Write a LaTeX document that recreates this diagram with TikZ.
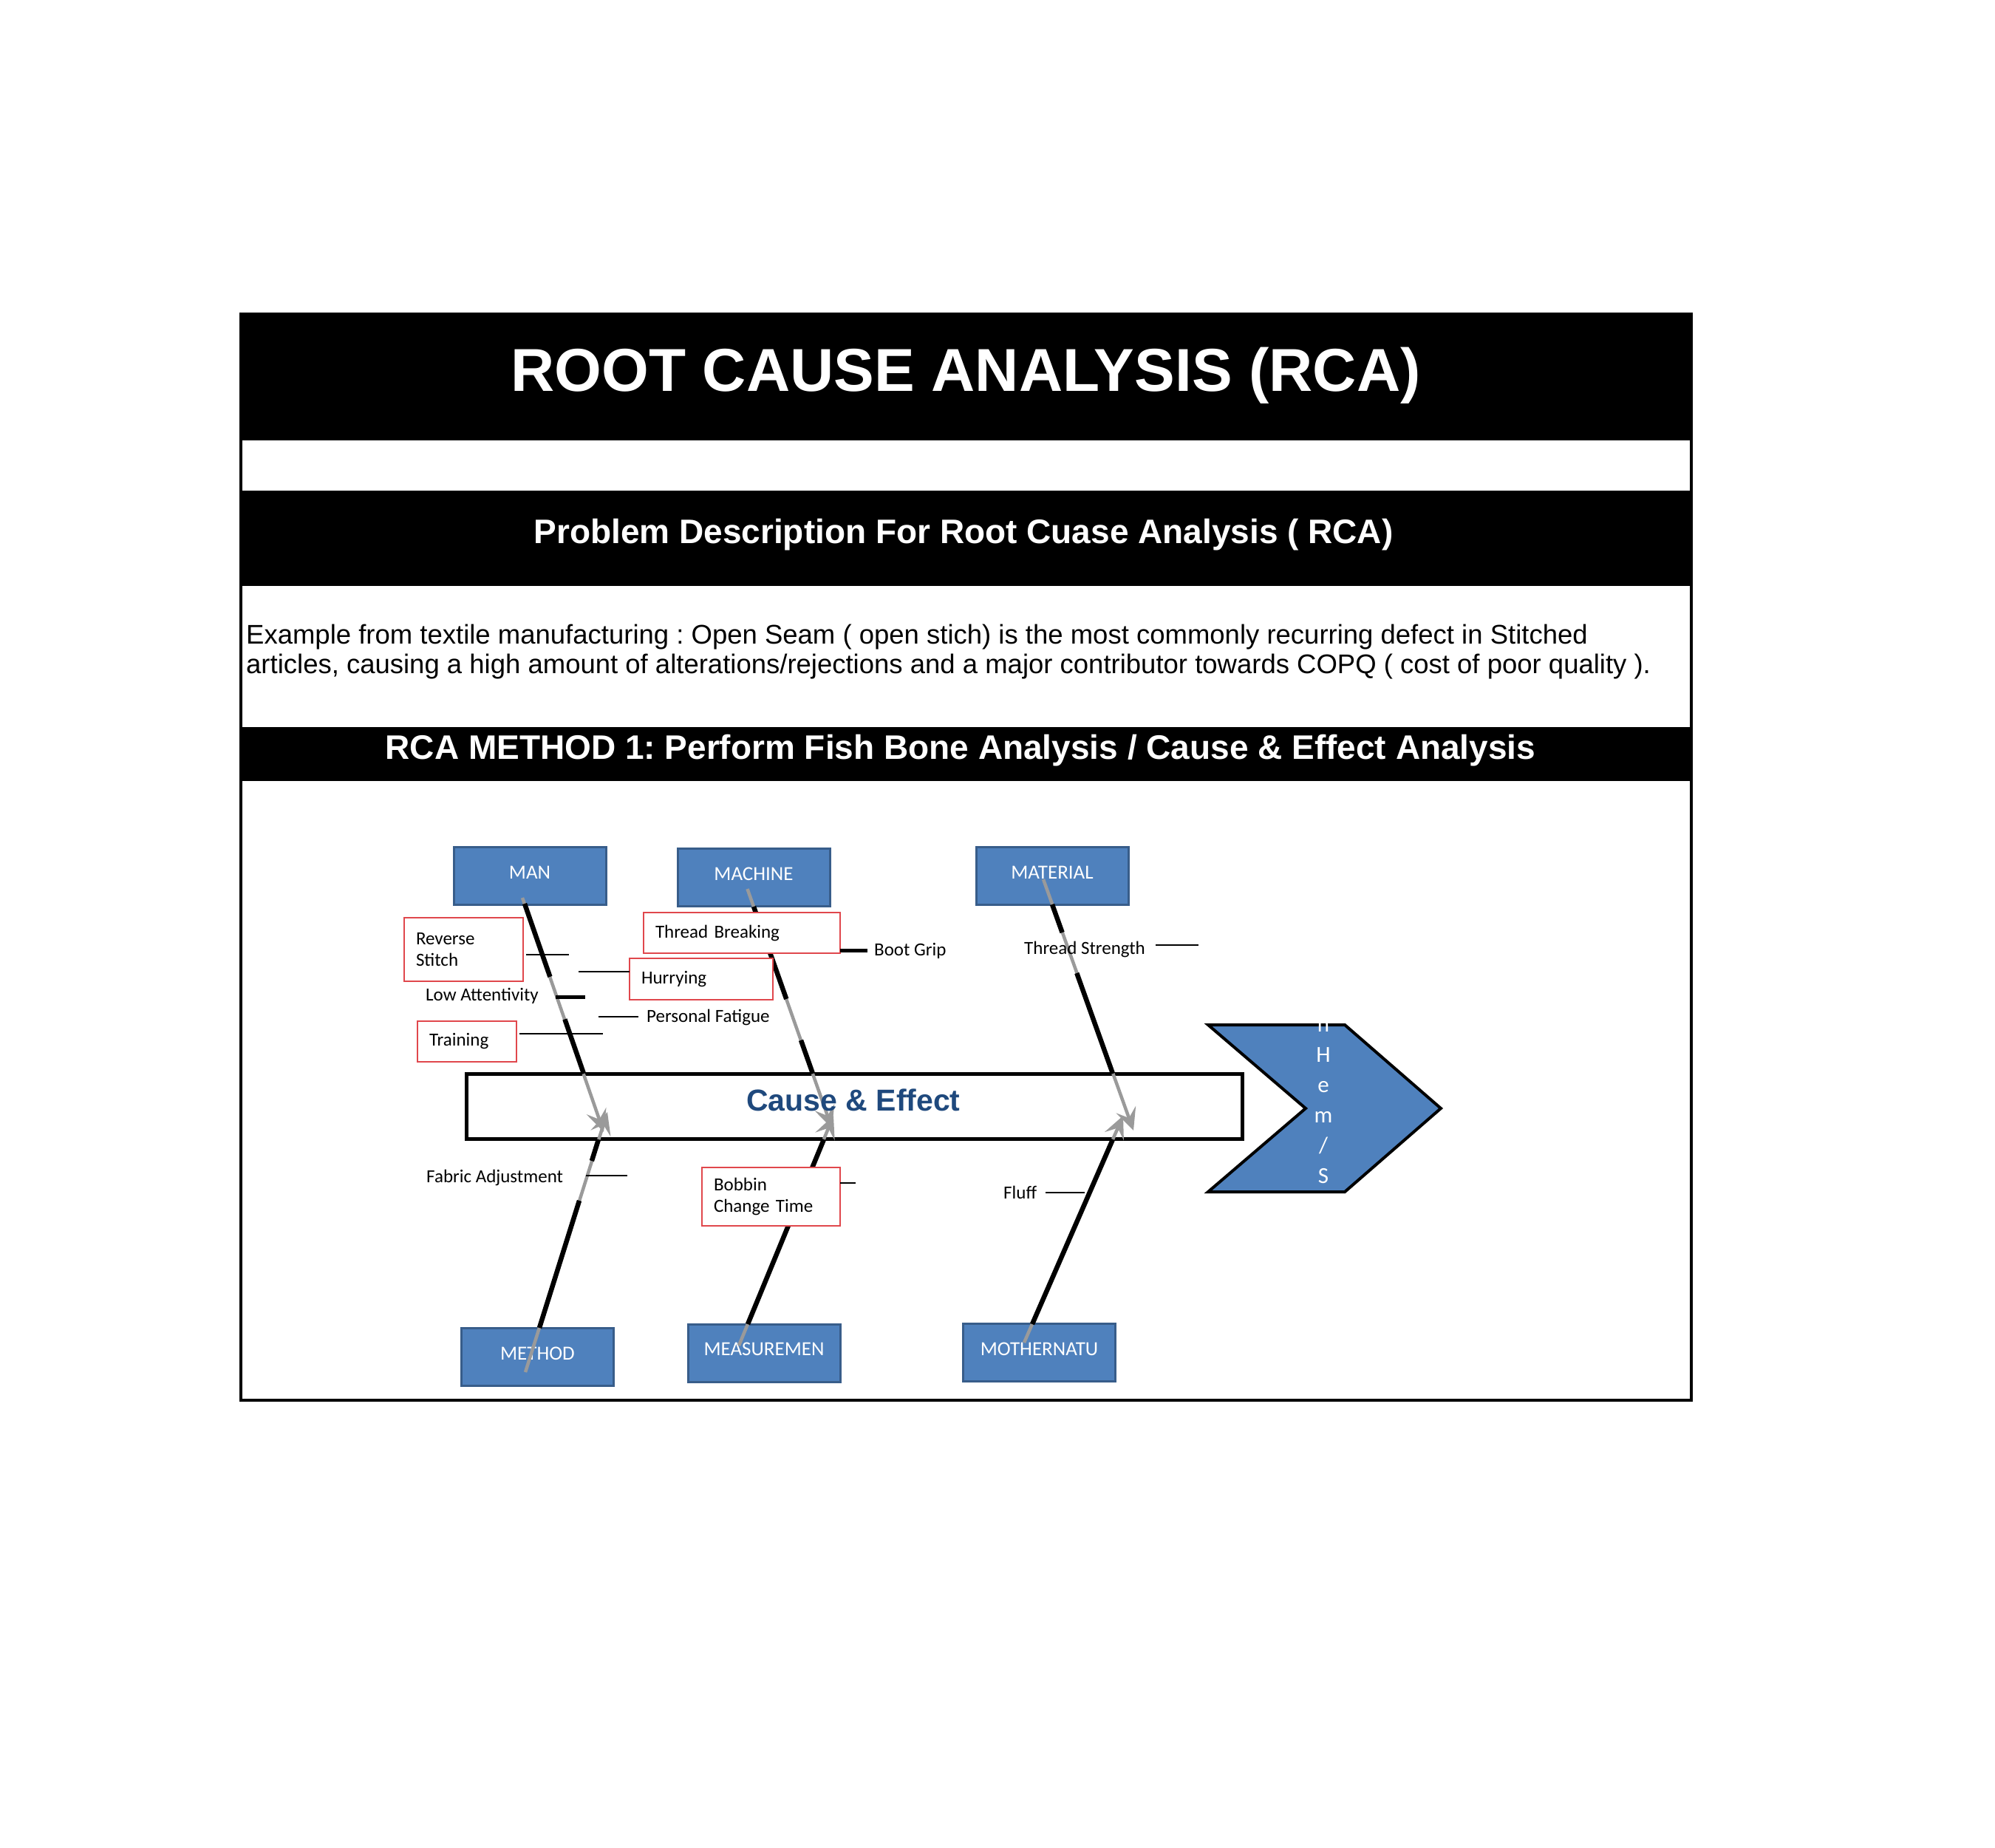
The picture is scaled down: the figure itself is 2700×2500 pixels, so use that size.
\documentclass[tikz,border=0pt]{standalone}
\usepackage{fontspec}
\setmainfont{Liberation Sans}
\newfontfamily\calfont{Carlito}
\usetikzlibrary{arrows.meta,calc}
\definecolor{catblue}{HTML}{4F81BD}
\definecolor{catedge}{HTML}{385D8A}
\definecolor{redb}{HTML}{E0474C}
\definecolor{cetext}{HTML}{1F497D}
\definecolor{arrowgray}{HTML}{9A9A9A}
\frenchspacing
\begin{document}
\begin{tikzpicture}[x=1pt,y=-1pt]
\tikzset{
  cat/.style={draw=catedge, line width=3pt, fill=catblue, text=white,
    font=\calfont\fontsize{27}{32}\selectfont, minimum width=206pt,
    minimum height=78pt, inner sep=0pt, text depth=10pt},
  redbox/.style={draw=redb, line width=2pt, fill=white,
    font=\calfont\fontsize{25}{29}\selectfont, align=left,
    inner xsep=16pt, inner ysep=0pt},
  lbl/.style={font=\calfont\fontsize{25}{29}\selectfont, inner sep=0pt, anchor=west},
  bone/.style={line width=6.5pt},
  tickline/.style={line width=2.5pt},
  heavytick/.style={line width=5pt},
  grayarrow/.style={line width=4.5pt, draw=arrowgray,
    -{Stealth[length=30pt,width=28pt,inset=12pt]}},
  headtext/.style={text=white, anchor=base,
    font=\bfseries\fontsize{46}{54}\selectfont, inner sep=0pt},
  paratext/.style={anchor=base west, font=\fontsize{36.5}{40}\selectfont, inner sep=0pt},
  chevletter/.style={text=white, anchor=base, inner sep=0pt,
    font=\calfont\fontsize{31}{34}\selectfont},
}
\useasboundingbox (0,0) rectangle (2700,2500);

% header bands
\fill[black] (326,425) rectangle (2289,596);
\fill[black] (326,664) rectangle (2289,793);
\fill[black] (326,984) rectangle (2289,1057);

\node[headtext, font=\bfseries\fontsize{82}{90}\selectfont] (title) at (1307,529)
  {ROOT CAUSE ANALYSIS (RCA)};
\node[headtext] (subtitle) at (1304,735)
  {Problem Description For Root Cuase Analysis ( RCA)};
\node[paratext] (desc1) at (333,871)
  {Example from textile manufacturing : Open Seam ( open stich) is the most commonly recurring defect in Stitched};
\node[paratext] (desc2) at (333,911)
  {articles, causing a high amount of alterations/rejections and a major contributor towards COPQ ( cost of poor quality ).};
\node[headtext] (method1) at (1300,1027)
  {RCA METHOD 1: Perform Fish Bone Analysis / Cause \& Effect Analysis};

% effect spine and head
\node[draw, line width=5pt, fill=white, minimum width=1050pt, minimum height=88pt,
  inner sep=0pt] (effect) at (1156,1497) {};
\coordinate (h1) at (1635,1387);
\coordinate (h2) at (1820,1387);
\coordinate (h3) at (1950,1500);
\coordinate (h4) at (1820,1613);
\coordinate (h5) at (1635,1613);
\coordinate (h6) at (1767,1500);
\draw[fill=catblue, line width=4pt, line join=miter]
  (h1) -- (h2) -- (h3) -- (h4) -- (h5) -- (h6) -- cycle;

% category boxes
\node[cat] (man) at (717,1185.5) {MAN};
\node[cat] (machine) at (1020,1187.5) {MACHINE};
\node[cat] (material) at (1424,1185.5) {MATERIAL};
\node[cat] (method) at (727.5,1836.5) {METHOD};
\node[cat] (measure) at (1034,1831) {MEASUREMEN};
\node[cat] (mother) at (1406.5,1830.5) {MOTHERNATU};

% gray arrows (under the black bones)
\coordinate (gaMan) at (707,1215);   \coordinate (gaManT) at (817,1532);
\coordinate (gaMac) at (1011.5,1203);\coordinate (gaMacT) at (1126,1527);
\coordinate (gaMat) at (1412,1190);  \coordinate (gaMatT) at (1534,1530);
\coordinate (gaMet) at (711,1857);   \coordinate (gaMetT) at (822,1505);
\coordinate (gaMea) at (1000,1821);  \coordinate (gaMeaT) at (1128,1510);
\coordinate (gaMot) at (1386,1817);  \coordinate (gaMotT) at (1520,1510);
\draw[grayarrow] (gaMan) -- (gaManT);
\draw[grayarrow] (gaMac) -- (gaMacT);
\draw[grayarrow] (gaMat) -- (gaMatT);
\draw[grayarrow] (gaMet) -- (gaMetT);
\draw[grayarrow] (gaMea) -- (gaMeaT);
\draw[grayarrow] (gaMot) -- (gaMotT);

% black bones
\coordinate (mt) at (710,1223);  \coordinate (mb) at (790,1453);
\coordinate (ct) at (1020,1227); \coordinate (cb) at (1100,1453);
\coordinate (at) at (1424,1224); \coordinate (ab) at (1506,1453);
\coordinate (et) at (730,1797);  \coordinate (eb) at (810,1542);
\coordinate (st) at (1012,1792); \coordinate (sb) at (1115,1542);
\coordinate (ot) at (1397,1792); \coordinate (ob) at (1506,1542);
\draw[bone] (mt) -- ($(mt)!0.43!(mb)$);
\draw[bone] ($(mt)!0.68!(mb)$) -- (mb);
\draw[bone] (ct) -- ($(ct)!0.553!(cb)$);
\draw[bone] ($(ct)!0.80!(cb)$) -- (cb);
\draw[bone] (at) -- ($(at)!0.166!(ab)$);
\draw[bone] ($(at)!0.406!(ab)$) -- (ab);
\draw[bone] (et) -- ($(et)!0.675!(eb)$);
\draw[bone] ($(et)!0.886!(eb)$) -- (eb);
\draw[bone] (st) -- ($(st)!0.532!(sb)$);
\draw[bone] ($(st)!0.848!(sb)$) -- (sb);
\draw[bone] (ot) -- (ob);

% red cause boxes
\node[redbox, minimum width=161pt, minimum height=86pt, text width=129pt]
  (revstitch) at (627.5,1285) {Reverse\\Stitch};
\node[redbox, minimum width=266pt, minimum height=55pt, text width=234pt]
  (threadbreak) at (1004,1262.5) {Thread Breaking};
\node[redbox, minimum width=194pt, minimum height=56pt, text width=162pt]
  (hurry) at (949,1325) {Hurrying};
\node[redbox, minimum width=134pt, minimum height=55pt, text width=102pt]
  (training) at (632,1409.5) {Training};
\node[redbox, minimum width=187pt, minimum height=79pt, text width=155pt]
  (bobbin) at (1043.5,1619.5) {Bobbin\\Change Time};

% plain cause labels
\node[lbl] (lowatt) at (576,1348) {Low Attentivity};
\node[lbl] (persfat) at (875,1377) {Personal Fatigue};
\node[lbl] (bootgrip) at (1183,1287) {Boot Grip};
\node[lbl] (threadstr) at (1386,1285) {Thread Strength};
\node[lbl] (fabadj) at (577,1594) {Fabric Adjustment};
\node[lbl] (fluff) at (1358,1614) {Fluff};

% tick lines
\coordinate (rs1) at (712,1292);  \coordinate (rs2) at (770,1292);
\coordinate (hu1) at (783,1315);  \coordinate (hu2) at (852,1315);
\coordinate (la1) at (752,1349);  \coordinate (la2) at (792,1349);
\coordinate (pf1) at (810,1376);  \coordinate (pf2) at (864,1376);
\coordinate (tr1) at (703,1399);  \coordinate (tr2) at (816,1399);
\coordinate (bg1) at (1137,1286); \coordinate (bg2) at (1174,1286);
\coordinate (ts1) at (1564,1279); \coordinate (ts2) at (1622,1279);
\coordinate (fa1) at (793,1591);  \coordinate (fa2) at (849,1591);
\coordinate (bb1) at (1137,1601); \coordinate (bb2) at (1158,1601);
\coordinate (fl1) at (1415,1614); \coordinate (fl2) at (1468,1614);
\draw[tickline] (rs1) -- (rs2);
\draw[tickline] (hu1) -- (hu2);
\draw[heavytick] (la1) -- (la2);
\draw[tickline] (pf1) -- (pf2);
\draw[tickline] (tr1) -- (tr2);
\draw[heavytick] (bg1) -- (bg2);
\draw[tickline] (ts1) -- (ts2);
\draw[tickline] (fa1) -- (fa2);
\draw[tickline] (bb1) -- (bb2);
\draw[tickline] (fl1) -- (fl2);

% effect text and head letters
\node[anchor=base, inner sep=0pt, text=cetext,
  font=\bfseries\fontsize{41}{48}\selectfont] (cetitle) at (1155,1503) {Cause \& Effect};
\node[chevletter] (cl0) at (1791,1396) {n};
\node[chevletter] (cl1) at (1791,1437) {H};
\node[chevletter] (cl2) at (1791,1478) {e};
\node[chevletter] (cl3) at (1791,1519) {m};
\node[chevletter] (cl4) at (1791,1560) {/};
\node[chevletter] (cl5) at (1791,1601) {S};

% outer frame
\draw[line width=4pt] (326,425) rectangle (2289,1895);
\end{tikzpicture}
\end{document}
